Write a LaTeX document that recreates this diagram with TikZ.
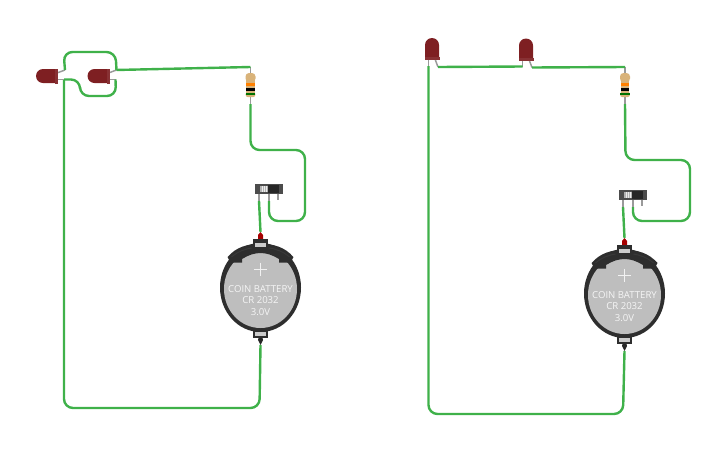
\documentclass[tikz,border=0pt]{standalone}
\usepackage{fontspec}
\setsansfont{Open Sans}
\usepackage{xcolor}
\usetikzlibrary{calc}
\definecolor{wiregreen}{HTML}{3FB14A}
\definecolor{ledred}{HTML}{7E1F22}
\definecolor{leadgrey}{HTML}{9A9A9A}
\definecolor{cellgrey}{HTML}{BEBEBE}
\definecolor{holderdark}{HTML}{2E2E2E}
\definecolor{tan}{HTML}{D9B37A}
\tikzset{
  wire/.style={draw=wiregreen,line width=2.4pt,rounded corners=9pt},
  leadline/.style={draw=leadgrey,line width=1.5pt},
  led/.pic={
    % lens pointing up, the leads end at (-a) and (-b)
    \coordinate (-a) at (-3.5,16);
    \coordinate (-b) at (6,17);
    \draw[leadline] (-3.5,9) -- (-a);
    \draw[leadline] (3,9) -- (-b);
    \fill[ledred] (-7,9) -- (-7,-5) arc (180:360:7) -- (7,9) -- cycle;
    \fill[ledred!92!white] (-7.5,7) rectangle (7.5,10);
  },
  resistor/.pic={
    % body from y=-13 to y=11
    \coordinate (-a) at (0,-19);
    \coordinate (-b) at (0,18);
    \draw[leadline] (-a) -- (-b);
    \fill[tan,rounded corners=3.5pt] (-5,-13) rectangle (5,-4);
    \fill[tan,rounded corners=2pt] (-4.8,6) rectangle (4.8,11);
    \fill[tan] (-4.2,-6) rectangle (4.2,9);
    \fill[orange] (-4.2,-3) rectangle (4.2,-.5);
    \fill[black] (-4.2,1.5) rectangle (4.2,4.5);
    \fill[green!45!black] (-4.8,6.5) rectangle (4.8,9);
  },
  slideswitch/.pic={
    % pins end at (-a), (-b), (-c)
    \coordinate (-a) at (-10,12);
    \coordinate (-b) at (0,12);
    \coordinate (-c) at (9,11);
    \draw[leadline] (-10,4) -- (-a);
    \draw[leadline] (0,4) -- (-b);
    \draw[leadline] (9,4) -- (-c);
    \fill[gray!60!black] (-14,-5) rectangle (14,4.5);
    \fill[black!85] (-1,-4) rectangle (10,3.5);
    \fill[gray!60] (-9,-3.5) rectangle (-1,3);
    \foreach \i in {-7,-5,-3} \fill[gray!15] (\i,-3) rectangle ++(.8,5.5);
  },
  coincell/.pic={
    % (-p) red tip at the top, (-n) black tip at the bottom
    \coordinate (-p) at (0,-56);
    \coordinate (-n) at (0,57);
    \fill[red!65!black] (-2.5,-48) -- (-2.5,-53) -- (0,-56) -- (2.5,-53) -- (2.5,-48) -- cycle;
    \fill[black!85] (-1.5,48) -- (-2.5,52) -- (0,57) -- (2.5,52) -- (1.5,48) -- cycle;
    \fill[holderdark] (-7.5,-49) rectangle (7.5,-40);
    \fill[holderdark] (-7.5,38) rectangle (7.5,50);
    \fill[holderdark] (0,-.5) ellipse (40.5 and 44.5);
    \fill[cellgrey] (0,1) ellipse (36.5 and 39);
    % shoulders of the holder
    \fill[holderdark] (-33,-31) .. controls (-24,-41) and (-14,-44) .. (0,-44)
      .. controls (14,-44) and (24,-41) .. (33,-31)
      -- (30,-25.5) -- (18.5,-25.5) -- (18.5,-29)
      .. controls (12,-33) and (6,-35) .. (0,-35)
      .. controls (-6,-35) and (-12,-33) .. (-18.5,-29)
      -- (-18.5,-25.5) -- (-30,-25.5) -- cycle;
    \draw[gray!45!black,line width=1pt] (-29,-31) .. controls (-22,-37) and (-15,-39) .. (-9,-40);
    \draw[gray!45!black,line width=1pt] (29,-31) .. controls (22,-37) and (15,-39) .. (9,-40);
    \fill[cellgrey!80!white] (-5.5,-45) rectangle (5.5,-41);
    \fill[cellgrey!80!white] (-5.5,44) rectangle (5.5,48);
    \draw[white!90!gray,line width=.5pt] (-6.5,-19) -- (6.5,-19) (0,-25.5) -- (0,-12.5);
    \node[align=center,text=white!92!gray,font=\sffamily\fontsize{9.6}{11.4}\selectfont,inner sep=0pt] (label) at (0,12.5)
      {COIN BATTERY\\CR 2032\\3.0V};
  }
}
\begin{document}
\begin{tikzpicture}[x=1pt,y=-1pt]
  \useasboundingbox (0,0) rectangle (725,453);

  % Left circuit: the two LEDs lie on their side
  \pic[rotate=90] (ledA) at (48,76) {led};
  \pic[rotate=90] (ledB) at (99.5,76) {led};
  \pic (resA) at (250.5,86) {resistor};
  \pic (swA) at (269,189) {slideswitch};
  \pic (cellA) at (260.5,288) {coincell};

  \draw[wire] (ledA-b) -- (63.5,52) -- (115.5,52) -- (ledB-b);
  \draw[wire,rounded corners=1pt] (ledB-b) -- (115.5,70) -- (resA-a);
  \draw[wire] (ledA-a) -- (80,79.5) -- (80,96) -- (116,96) -- (ledB-a);
  \draw[wire] (64,80) -- (64,408) -- (259.5,408) -- (cellA-n);
  \draw[wire] (resA-b) -- (250.5,150) -- (305,150) -- (305,221) -- (269,221) -- (swA-b);
  \draw[wire] (swA-a) -- (cellA-p);

  % Right circuit
  \pic (ledC) at (432,50) {led};
  \pic (ledD) at (526,50.5) {led};
  \pic (resB) at (625,86) {resistor};
  \pic (swB) at (633,195) {slideswitch};
  \pic (cellB) at (624.5,294) {coincell};

  \draw[wire] (ledC-a) -- (428.5,414) -- (623,414) -- (cellB-n);
  \draw[wire,rounded corners=1pt] (ledC-b) -- (ledD-a);
  \draw[wire,rounded corners=1pt] (ledD-b) -- (resB-a);
  \draw[wire] (resB-b) -- (625.5,160) -- (690,160) -- (690,221) -- (633,221) -- (swB-b);
  \draw[wire] (swB-a) -- (cellB-p);
\end{tikzpicture}
\end{document}
